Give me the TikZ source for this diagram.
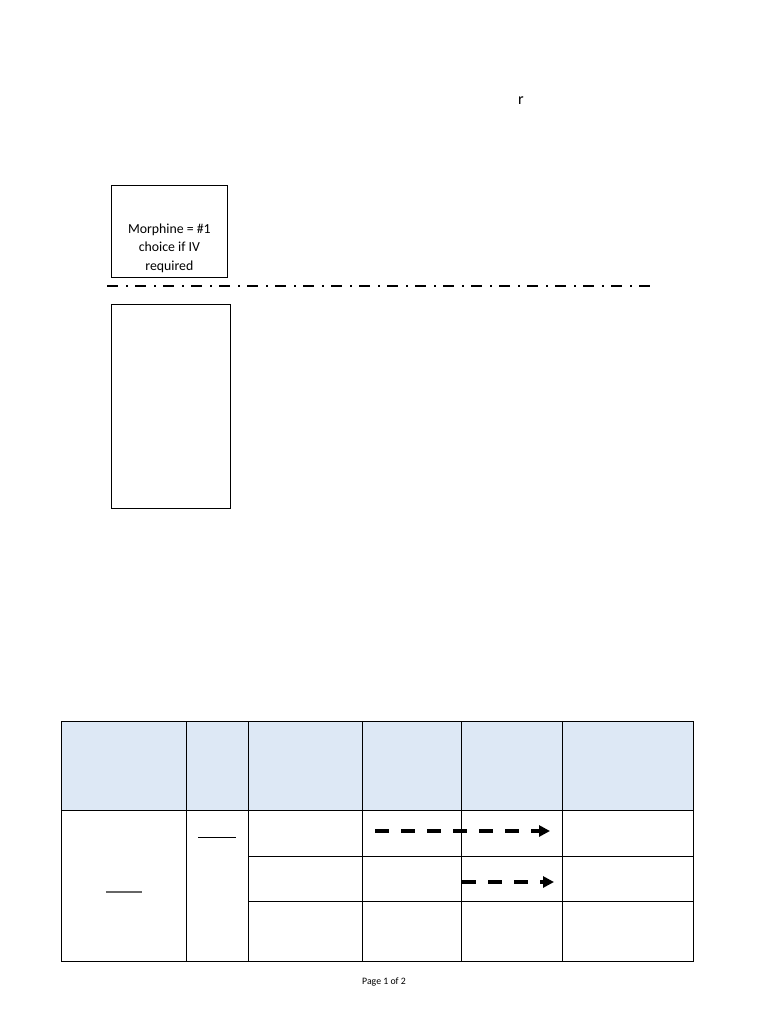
\documentclass[tikz,border=0pt]{standalone}
\usepackage{fontspec}
\setmainfont{Carlito}
\usetikzlibrary{positioning,arrows.meta}
\definecolor{headblue}{RGB}{221,232,245}
\tikzset{
  box/.style={draw, line width=0.8pt, rectangle, anchor=north west, inner sep=0pt},
  cell/.style={draw, line width=0.9pt, rectangle, anchor=north west, inner sep=0pt},
  headcell/.style={cell, fill=headblue},
  flowarrow/.style={line width=3.2pt, dash pattern=on 14pt off 12pt, -{Triangle[length=11pt, width=11pt]}},
}
\begin{document}
\begin{tikzpicture}[x=1pt, y=-1pt]
\useasboundingbox (0,0) rectangle (768,1024);

% Titulo
\node[font=\fontsize{16}{18}\selectfont] (title) at (521,101) {r};

% Caixas
\node[box, minimum width=116pt, minimum height=92pt] (morph) at (111,185) {};
\node[font=\fontsize{13.8}{18.5}\selectfont, align=center, above=2pt of morph.south] (morphtxt) {Morphine = \#1\\choice if IV\\required};
\node[box, minimum width=119pt, minimum height=204pt] (empty) at (111,304) {};

% Linha traco-ponto
\coordinate (dl) at (107,286);
\coordinate (dr) at (655,286);
\draw[line width=2.8pt, dash pattern=on 11pt off 8pt on 2pt off 7pt] (dl) -- (dr);

% Tabela: cabecalho
\node[headcell, minimum width=125pt, minimum height=89pt] (h1) at (61,721) {};
\node[headcell, minimum width=62pt, minimum height=89pt] (h2) at (186,721) {};
\node[headcell, minimum width=114pt, minimum height=89pt] (h3) at (248,721) {};
\node[headcell, minimum width=99pt, minimum height=89pt] (h4) at (362,721) {};
\node[headcell, minimum width=101pt, minimum height=89pt] (h5) at (461,721) {};
\node[headcell, minimum width=131pt, minimum height=89pt] (h6) at (562,721) {};

% Tabela: corpo
\node[cell, minimum width=125pt, minimum height=151pt] (c1) at (61,810) {};
\node[cell, minimum width=62pt, minimum height=151pt] (c2) at (186,810) {};
\node[cell, minimum width=114pt, minimum height=46pt] (r1c3) at (248,810) {};
\node[cell, minimum width=99pt, minimum height=46pt] (r1c4) at (362,810) {};
\node[cell, minimum width=101pt, minimum height=46pt] (r1c5) at (461,810) {};
\node[cell, minimum width=131pt, minimum height=46pt] (r1c6) at (562,810) {};
\node[cell, minimum width=114pt, minimum height=45pt] (r2c3) at (248,856) {};
\node[cell, minimum width=99pt, minimum height=45pt] (r2c4) at (362,856) {};
\node[cell, minimum width=101pt, minimum height=45pt] (r2c5) at (461,856) {};
\node[cell, minimum width=131pt, minimum height=45pt] (r2c6) at (562,856) {};
\node[cell, minimum width=114pt, minimum height=60pt] (r3c3) at (248,901) {};
\node[cell, minimum width=99pt, minimum height=60pt] (r3c4) at (362,901) {};
\node[cell, minimum width=101pt, minimum height=60pt] (r3c5) at (461,901) {};
\node[cell, minimum width=131pt, minimum height=60pt] (r3c6) at (562,901) {};

% Tracos curtos
\draw[line width=1.2pt, black!60] ([xshift=-18pt, yshift=-6pt]c1.center) -- ([xshift=18pt, yshift=-6pt]c1.center);
\draw[line width=1pt] ([xshift=-19pt, yshift=-27pt]c2.north) -- ([xshift=19pt, yshift=-27pt]c2.north);

% Setas
\coordinate (a1s) at (375,831);
\coordinate (a1e) at (550,831);
\coordinate (a2s) at (462,882);
\coordinate (a2e) at (554,882);
\draw[flowarrow] (a1s) -- (a1e);
\draw[flowarrow] (a2s) -- (a2e);

% Rodape
\node[font=\fontsize{9.8}{11}\selectfont] (page) at (384,982) {Page 1 of 2};
\end{tikzpicture}
\end{document}
